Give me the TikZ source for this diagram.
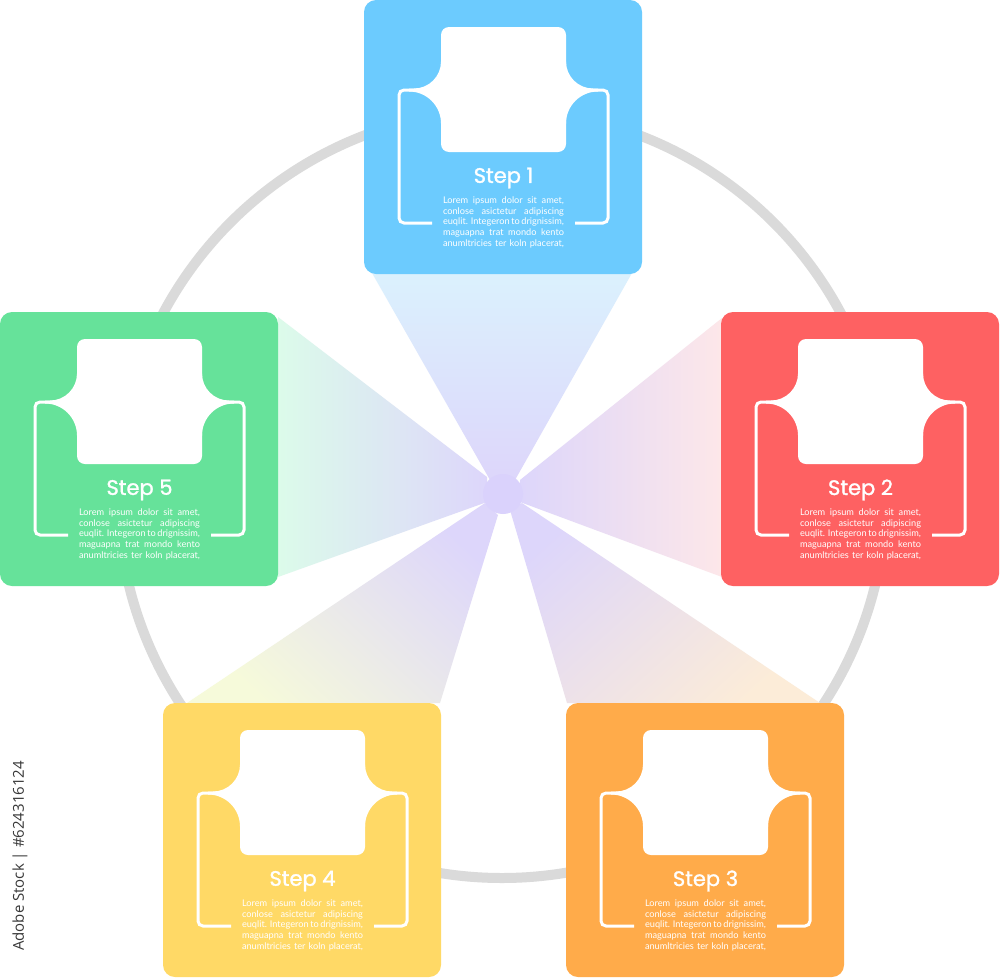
\documentclass[tikz,border=0pt]{standalone}
\usepackage{fontspec}
\setmainfont{Lato}
\newfontfamily\headfont{Poppins}[FakeBold=1.4]
\newfontfamily\wmfont{Open Sans}
\definecolor{cone}{HTML}{6CCBFE}
\definecolor{ctwo}{HTML}{FE6162}
\definecolor{cthree}{HTML}{FFAB4A}
\definecolor{cfour}{HTML}{FFD966}
\definecolor{cfive}{HTML}{66E29A}
\definecolor{bone}{HTML}{DBF1FD}
\definecolor{btwo}{HTML}{FDE7E9}
\definecolor{bthree}{HTML}{FCECD8}
\definecolor{bfour}{HTML}{F6FADA}
\definecolor{bfive}{HTML}{DCFBEA}
\definecolor{bmid}{HTML}{DDD6FB}
\definecolor{hubc}{HTML}{DAD2FC}
\definecolor{ringgray}{HTML}{DADADA}
\tikzset{
  cardbox/.style={rounded corners=12pt},
  bracketline/.style={draw=white, line width=3pt, rounded corners=5pt},
  headtext/.style={text=white, font=\headfont\fontsize{21}{21}\selectfont, inner sep=0pt},
  bodytext/.style={text=white, font=\fontsize{9.2}{10.7}\selectfont, inner sep=0pt, anchor=north},
}
\newcommand\lorem{\parbox{121pt}{%
\makebox[121pt][s]{Lorem ipsum dolor sit amet,}\\
\makebox[121pt][s]{conlose asictetur adipiscing}\\
\makebox[121pt][s]{euqlit. Integeron to drignissim,}\\
\makebox[121pt][s]{maguapna trat mondo kento}\\
\makebox[121pt][s]{anumltricies ter koln placerat,}}}
\newcommand\stepcard[4]{%
\begin{scope}[shift={(#1,#2)}]
  \fill[#3, cardbox] (0,0) rectangle (278,274);
  \path[bracketline] (68,223) -- (35,223) -- (35,90) -- (60,90);
  \path[bracketline] (211,223) -- (244,223) -- (244,90) -- (219,90);
  \fill[white, rounded corners=8pt] (77,27) rectangle (202,152);
  \fill[white] (50,88.5) .. controls (64.9,88.5) and (77,76.4) .. (77,61.5)
     -- (77,123.5) .. controls (77,105.8) and (62.7,91.5) .. (45,91.5) -- (45,88.5) -- cycle;
  \fill[white] (229,88.5) .. controls (214.1,88.5) and (202,76.4) .. (202,61.5)
     -- (202,123.5) .. controls (202,105.8) and (216.3,91.5) .. (234,91.5) -- (234,88.5) -- cycle;
  \node[headtext] (head#4) at (139.5,178) {Step #4};
  \node[bodytext] (body#4) at (139.5,196.5) {\lorem};
\end{scope}}
\begin{document}
\begin{tikzpicture}[x=1pt,y=-1pt]
\useasboundingbox[fill=white] (0,0) rectangle (1000,977);
% ring
\node[draw=ringgray, line width=10pt, circle, minimum size=768pt, inner sep=0pt] (ring) at (502,494) {};
% beams
\shade[top color=bone, bottom color=bmid] (372,273) -- (632,273) -- (515,480) -- (490,480) -- cycle;
\shade[left color=bmid, right color=btwo] (722,318) -- (722,577) -- (520,502) -- (520,480) -- cycle;
\shade[left color=bfive, right color=bmid] (278,317) -- (278,577) -- (487,502) -- (487,477) -- cycle;
\shade[top color=bmid, bottom color=bfour, shading angle=-43] (187,703) -- (440,703) -- (498,515) -- (485,503) -- cycle;
\shade[top color=bmid, bottom color=bthree, shading angle=42] (567,703) -- (820,703) -- (522,503) -- (510,510) -- cycle;
% hub
\node[fill=hubc, circle, minimum size=40pt, inner sep=0pt] (hub) at (503,494) {};
% cards
\stepcard{364}{0}{cone}{1}
\stepcard{721}{312}{ctwo}{2}
\stepcard{566}{703}{cthree}{3}
\stepcard{163}{703}{cfour}{4}
\stepcard{0}{312}{cfive}{5}
% side credit
\node[rotate=90, text=black!78, font=\wmfont\fontsize{15}{15}\selectfont, inner sep=0pt] (credit) at (20,856) {Adobe Stock | \#624316124};
\end{tikzpicture}
\end{document}
